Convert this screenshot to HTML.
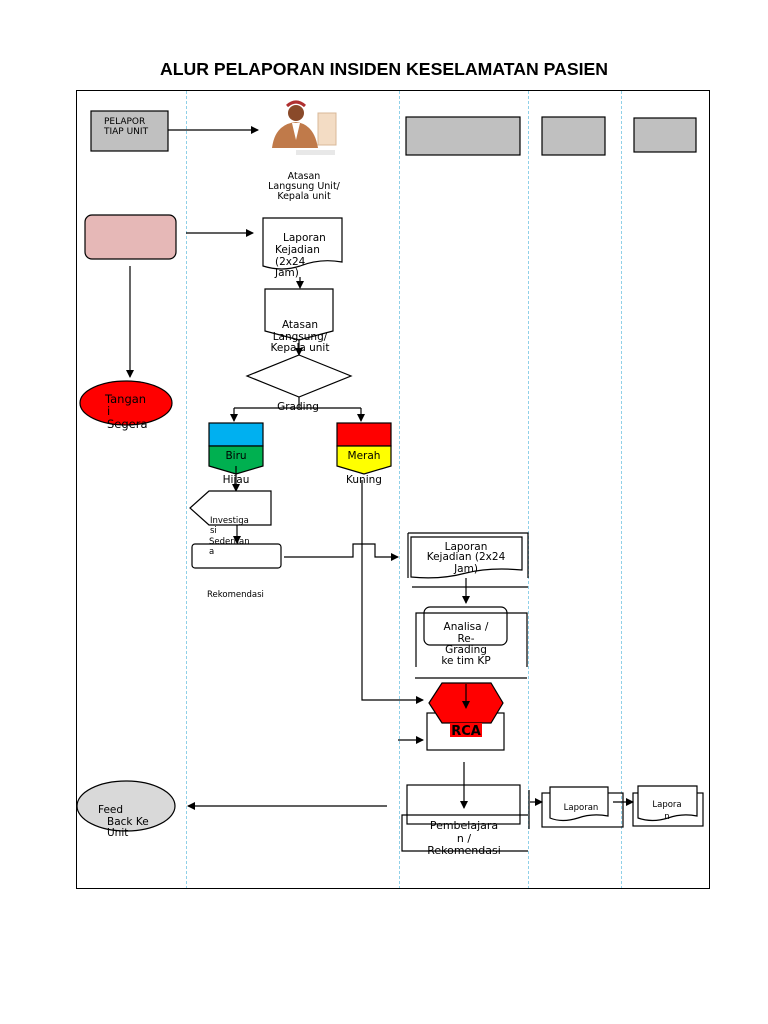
<!DOCTYPE html>
<html><head><meta charset="utf-8"><style>
html,body{margin:0;padding:0;background:#fff;}
svg{display:block;font-family:"DejaVu Sans","Liberation Sans",sans-serif;}
</style></head><body>
<svg width="768" height="1024" viewBox="0 0 768 1024" xmlns="http://www.w3.org/2000/svg">
<defs>
<marker id="a" markerWidth="8" markerHeight="8" refX="7" refY="4" orient="auto" markerUnits="userSpaceOnUse"><path d="M0,0 L8,4 L0,8 z" fill="#000"/></marker>
</defs>
<text x="384" y="75" text-anchor="middle" font-family="Liberation Sans,sans-serif" font-weight="bold" font-size="17.5" textLength="448" lengthAdjust="spacingAndGlyphs">ALUR PELAPORAN INSIDEN KESELAMATAN PASIEN</text>
<rect x="76.5" y="90.5" width="633" height="798" fill="none" stroke="#000" stroke-width="1"/>
<g stroke="#8fd0e8" stroke-dasharray="3,2" stroke-width="1">
<line x1="186.5" y1="91" x2="186.5" y2="888"/><line x1="399.5" y1="91" x2="399.5" y2="888"/>
<line x1="528.5" y1="91" x2="528.5" y2="888"/><line x1="621.5" y1="91" x2="621.5" y2="888"/>
</g>
<g stroke="#000" stroke-width="1.2" fill="none">
<rect x="91" y="111" width="77" height="40" fill="#c0c0c0"/>
<rect x="406" y="117" width="114" height="38" fill="#c0c0c0"/>
<rect x="542" y="117" width="63" height="38" fill="#c0c0c0"/>
<rect x="634" y="118" width="62" height="34" fill="#c0c0c0"/>
<line x1="168" y1="130" x2="258" y2="130" marker-end="url(#a)"/>
<rect x="85" y="215" width="91" height="44" rx="7" fill="#e6b8b7"/>
<line x1="186" y1="233" x2="253" y2="233" marker-end="url(#a)"/>
<path d="M263,218 H342 V262 Q320,258 300,266 Q282,272 263,266 Z" fill="#fff"/>
<line x1="300" y1="277" x2="300" y2="288" marker-end="url(#a)"/>
<path d="M265,289 H333 V331 L299,340 L265,331 Z" fill="#fff"/>
<line x1="299" y1="340" x2="299" y2="355" marker-end="url(#a)"/>
<path d="M299,355 L351,376 L299,397 L247,376 Z" fill="#fff"/>
<path d="M299,397 V408 M234,408 H361"/>
<line x1="234" y1="408" x2="234" y2="421" marker-end="url(#a)"/>
<line x1="361" y1="408" x2="361" y2="421" marker-end="url(#a)"/>
<ellipse cx="126" cy="403" rx="46" ry="22" fill="#ff0000"/>
<line x1="130" y1="266" x2="130" y2="377" marker-end="url(#a)"/>
<rect x="209" y="423" width="54" height="23" fill="#00b0f0"/>
<path d="M209,446 H263 V466 L236,474 L209,466 Z" fill="#00b050"/>
<rect x="337" y="423" width="54" height="23" fill="#ff0000"/>
<path d="M337,446 H391 V466 L364,474 L337,466 Z" fill="#ffff00"/>
<line x1="236" y1="466" x2="236" y2="491" marker-end="url(#a)"/>
<path d="M209,491 H271 V525 H209 L190,508 Z" fill="#fff"/>
<line x1="237" y1="525" x2="237" y2="543" marker-end="url(#a)"/>
<rect x="192" y="544" width="89" height="24" rx="3" fill="#fff"/>
<path d="M284,557 H353 V544 H375 V557 H398" marker-end="url(#a)"/>
<path d="M362,480 V700 H423" marker-end="url(#a)"/>
<path d="M408,533 H528 V578 M408,533 V578"/>
<path d="M411,537 H522 V570 Q490,567 466,573 Q440,580 411,577 Z" fill="#fff"/>
<line x1="412" y1="587" x2="528" y2="587"/>
<line x1="466" y1="578" x2="466" y2="603" marker-end="url(#a)"/>
<path d="M416,667 V613 H527 V667"/>
<rect x="424" y="607" width="83" height="38" rx="6" fill="none"/>
<line x1="415" y1="678" x2="527" y2="678"/>
<rect x="427" y="713" width="77" height="37" fill="#fff"/>
<path d="M429,703 L442,683 H491 L503,703 L491,723 H442 Z" fill="#ff0000" stroke="#000"/>
<line x1="466" y1="684" x2="466" y2="708" marker-end="url(#a)"/>
<line x1="398" y1="740" x2="423" y2="740" marker-end="url(#a)"/>
<path d="M528,851 H402 V815 H528"/>
<rect x="407" y="785" width="113" height="39"/>
<line x1="464" y1="762" x2="464" y2="808" marker-end="url(#a)"/>
<line x1="387" y1="806" x2="188" y2="806" marker-end="url(#a)"/>
<ellipse cx="126" cy="806" rx="49" ry="25" fill="#d9d9d9"/>
<path d="M529,790 V829"/>
<line x1="530" y1="802" x2="542" y2="802" marker-end="url(#a)"/>
<rect x="542" y="793" width="81" height="34"/>
<path d="M550,787 H608 V816 Q592,813 578,818 Q562,823 550,818 Z" fill="#fff"/>
<line x1="613" y1="802" x2="633" y2="802" marker-end="url(#a)"/>
<rect x="633" y="793" width="70" height="33"/>
<path d="M638,786 H697 V816 Q682,813 668,818 Q652,823 638,818 Z" fill="#fff"/>
</g>
<g>
<circle cx="296" cy="113" r="8" fill="#8a4a2a"/>
<path d="M287,106 Q296,98 305,106" stroke="#b03030" stroke-width="3" fill="none"/>
<path d="M272,148 Q275,124 296,122 Q314,124 318,148 Z" fill="#c07a4a"/>
<path d="M292,123 L296,140 L300,123 Z" fill="#fff"/>
<rect x="318" y="113" width="18" height="32" fill="#f3dcc4" stroke="#d8b898"/>
<path d="M296,150 H335 V155 H296 Z" fill="#e8e8e8"/>
</g>
<g font-size="9.5" fill="#000">
<text x="104" y="124" font-size="9">PELAPOR</text>
<text x="104" y="134" font-size="9">TIAP UNIT</text>
<g text-anchor="middle">
<text x="304" y="179">Atasan</text><text x="304" y="189">Langsung Unit/</text><text x="304" y="199">Kepala unit</text>
</g>
<g font-size="10.5">
<text x="283" y="241">Laporan</text><text x="275" y="253">Kejadian</text><text x="275" y="265">(2x24</text><text x="275" y="276">Jam)</text>
</g>
<g text-anchor="middle" font-size="10.5">
<text x="300" y="328">Atasan</text><text x="300" y="340">Langsung/</text><text x="300" y="351">Kepala unit</text>
</g>
<text x="298" y="410" text-anchor="middle" font-size="10.5">Grading</text>
<g font-size="11.5"><text x="105" y="403">Tangan</text><text x="107" y="415">i</text><text x="107" y="428">Segera</text></g>
<g text-anchor="middle" font-size="10.5">
<text x="236" y="459">Biru</text><text x="236" y="483">Hijau</text>
<text x="364" y="459">Merah</text><text x="364" y="483">Kuning</text>
</g>
<g font-size="8.5"><text x="210" y="523">Investiga</text><text x="210" y="533">si</text><text x="209" y="544">Sederhan</text><text x="209" y="554">a</text></g>
<text x="207" y="597" font-size="8.5">Rekomendasi</text>
<g text-anchor="middle" font-size="10.5">
<text x="466" y="550">Laporan</text><text x="466" y="560">Kejadian (2x24</text><text x="466" y="572">Jam)</text>
<text x="466" y="630">Analisa /</text><text x="466" y="642">Re-</text><text x="466" y="653">Grading</text><text x="466" y="664">ke tim KP</text>
</g>
<rect x="450" y="723" width="32" height="14" fill="#ff0000"/>
<text x="466" y="735" text-anchor="middle" font-weight="bold" font-size="13">RCA</text>
<g text-anchor="middle" font-size="11">
<text x="464" y="829">Pembelajara</text><text x="464" y="842">n /</text><text x="464" y="854">Rekomendasi</text>
</g>
<g font-size="10.5"><text x="98" y="813">Feed</text><text x="107" y="825">Back Ke</text><text x="107" y="836">Unit</text></g>
<text x="581" y="810" text-anchor="middle" font-size="8.5">Laporan</text>
<text x="667" y="807" text-anchor="middle" font-size="8.5">Lapora</text>
<text x="667" y="819" text-anchor="middle" font-size="8.5">n</text>
</g>
</svg>
</body></html>
